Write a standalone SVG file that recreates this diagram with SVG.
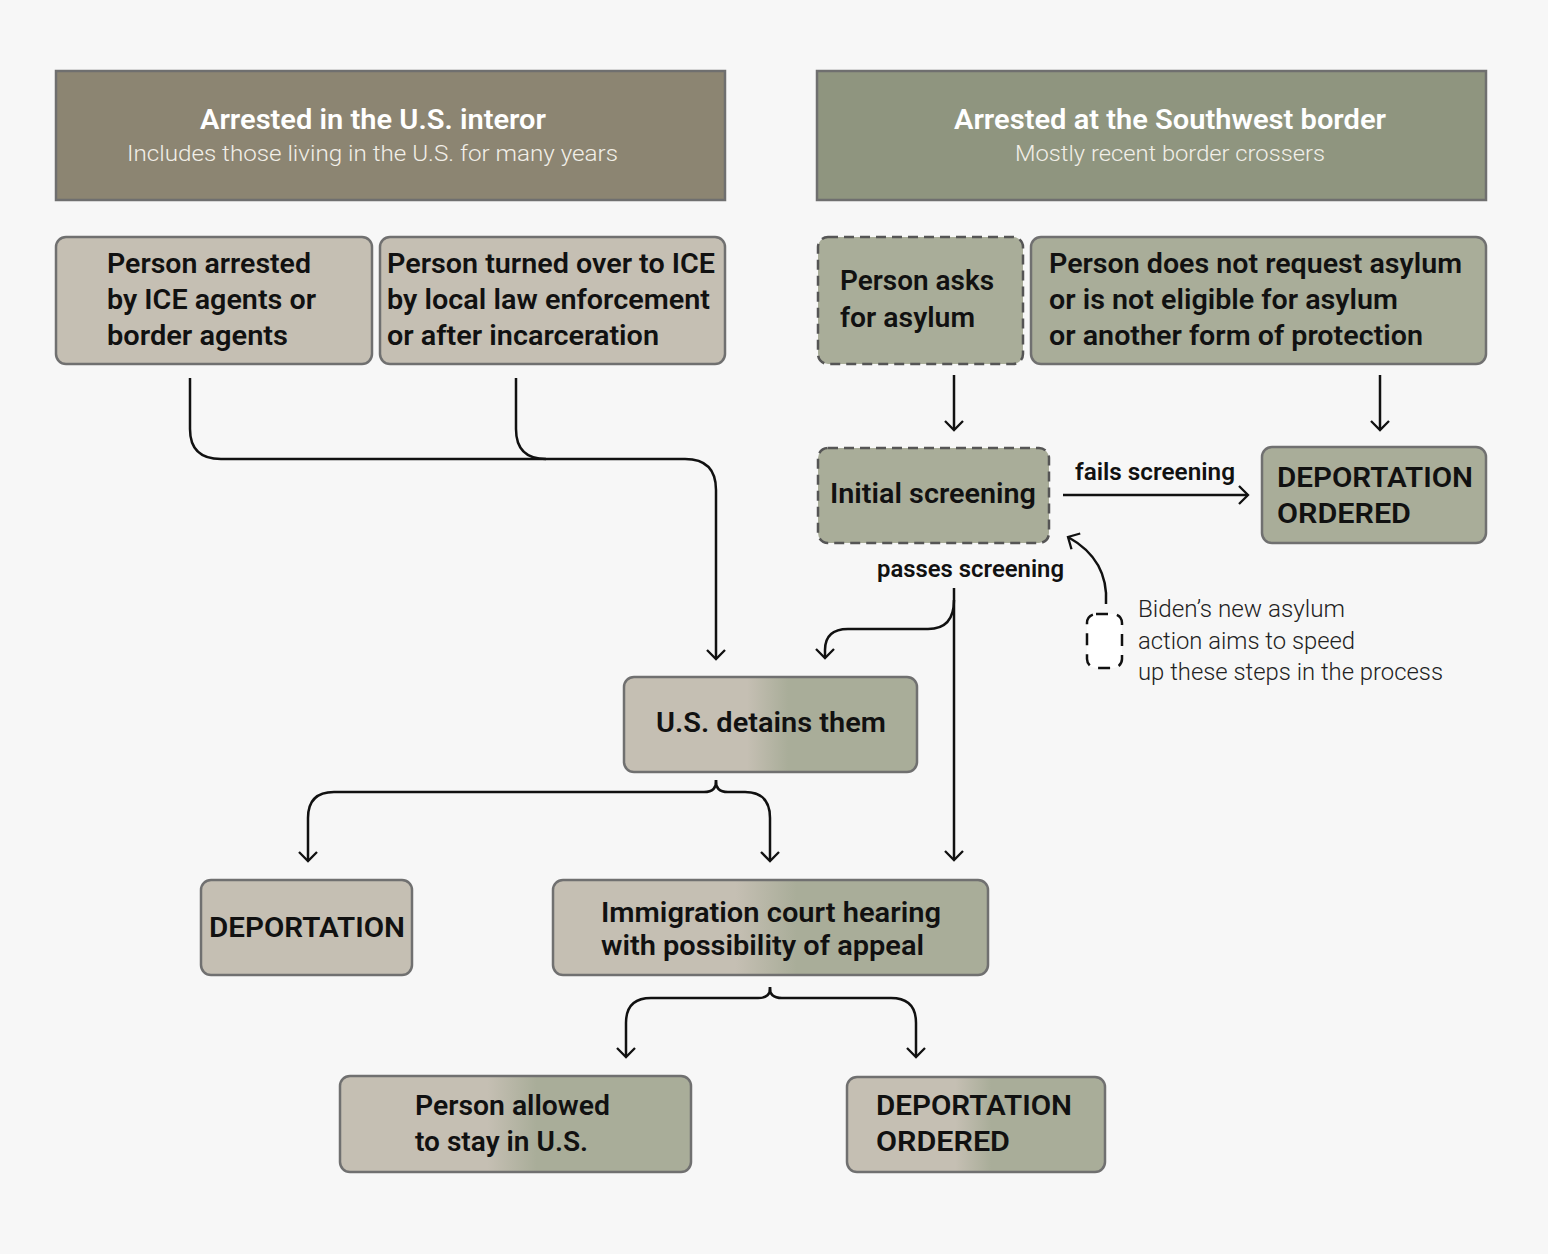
<svg xmlns="http://www.w3.org/2000/svg" width="1548" height="1254" viewBox="0 0 1548 1254">
<style>
.hdr{stroke:#6f6f6f;stroke-width:2.5}
.box{stroke:#707070;stroke-width:2.5}
.dash{stroke:#555;stroke-width:2.5;stroke-dasharray:10 6}
.lt{fill:#c5bfb3}
.gr{fill:#a9ad99}
.t{font-family:Roboto,"Liberation Sans",sans-serif;font-weight:600;font-size:28px;fill:#111}
.lbl{font-family:Roboto,"Liberation Sans",sans-serif;font-weight:600;font-size:23px;fill:#111}
.ht{font-family:Roboto,"Liberation Sans",sans-serif;font-weight:600;font-size:28px;fill:#fff}
.hs{font-family:Roboto,"Liberation Sans",sans-serif;font-weight:300;font-size:22px;fill:#f2efe8}
.note{font-family:Roboto,"Liberation Sans",sans-serif;font-weight:300;font-size:23px;fill:#222}
.c{fill:none;stroke:#111;stroke-width:2.5}
</style>
<defs>
<linearGradient id="g" x1="0" y1="0" x2="1" y2="0">
<stop offset="0" stop-color="#c5bfb3"/>
<stop offset="0.42" stop-color="#c5bfb3"/>
<stop offset="0.56" stop-color="#a9ad99"/>
<stop offset="1" stop-color="#a9ad99"/>
</linearGradient>
<marker id="ah" viewBox="-12 -12 24 24" refX="0" refY="0" markerWidth="24" markerHeight="24" markerUnits="userSpaceOnUse" orient="auto">
<path d="M-9,-9 L0,0 L-9,9" fill="none" stroke="#111" stroke-width="2.3"/>
</marker>
</defs>
<rect width="1548" height="1254" fill="#f7f7f7"/>

<g id="hdr-interior">
<rect class="hdr" x="56" y="71" width="669" height="129" fill="#8c8572"/>
<text class="ht" x="200" y="129" textLength="346" lengthAdjust="spacingAndGlyphs">Arrested in the U.S. interor</text>
<text class="hs" x="127" y="161" textLength="491" lengthAdjust="spacingAndGlyphs">Includes those living in the U.S. for many years</text>
</g>
<g id="hdr-border">
<rect class="hdr" x="817" y="71" width="669" height="129" fill="#8f957f"/>
<text class="ht" x="954" y="129" textLength="432" lengthAdjust="spacingAndGlyphs">Arrested at the Southwest border</text>
<text class="hs" x="1015" y="161" textLength="310" lengthAdjust="spacingAndGlyphs">Mostly recent border crossers</text>
</g>

<g id="n-arrested-ice">
<rect class="box lt" x="56" y="237" width="316" height="127" rx="10"/>
<text class="t" x="107" y="273" textLength="204" lengthAdjust="spacingAndGlyphs">Person arrested</text>
<text class="t" x="107" y="309" textLength="209" lengthAdjust="spacingAndGlyphs">by ICE agents or</text>
<text class="t" x="107" y="345" textLength="181" lengthAdjust="spacingAndGlyphs">border agents</text>
</g>
<g id="n-turned-over">
<rect class="box lt" x="380" y="237" width="345" height="127" rx="10"/>
<text class="t" x="387" y="273" textLength="328" lengthAdjust="spacingAndGlyphs">Person turned over to ICE</text>
<text class="t" x="387" y="309" textLength="323" lengthAdjust="spacingAndGlyphs">by local law enforcement</text>
<text class="t" x="387" y="345" textLength="272" lengthAdjust="spacingAndGlyphs">or after incarceration</text>
</g>
<g id="n-asks-asylum">
<rect class="dash gr" x="818" y="237" width="205" height="127" rx="10"/>
<text class="t" x="840" y="290" textLength="154" lengthAdjust="spacingAndGlyphs">Person asks</text>
<text class="t" x="840" y="327" textLength="135" lengthAdjust="spacingAndGlyphs">for asylum</text>
</g>
<g id="n-no-asylum">
<rect class="box gr" x="1031" y="237" width="455" height="127" rx="10"/>
<text class="t" x="1049" y="273" textLength="413" lengthAdjust="spacingAndGlyphs">Person does not request asylum</text>
<text class="t" x="1049" y="309" textLength="349" lengthAdjust="spacingAndGlyphs">or is not eligible for asylum</text>
<text class="t" x="1049" y="345" textLength="374" lengthAdjust="spacingAndGlyphs">or another form of protection</text>
</g>
<g id="n-screening">
<rect class="dash gr" x="818" y="448" width="231" height="95" rx="10"/>
<text class="t" x="830" y="503" textLength="206" lengthAdjust="spacingAndGlyphs">Initial screening</text>
</g>
<g id="n-deport-ordered-1">
<rect class="box gr" x="1262" y="447" width="224" height="96" rx="10"/>
<text class="t" x="1277" y="487" textLength="196" lengthAdjust="spacingAndGlyphs">DEPORTATION</text>
<text class="t" x="1277" y="523" textLength="134" lengthAdjust="spacingAndGlyphs">ORDERED</text>
</g>
<g id="n-detains">
<rect class="box" x="624" y="677" width="293" height="95" rx="10" fill="url(#g)"/>
<text class="t" x="656" y="732" textLength="230" lengthAdjust="spacingAndGlyphs">U.S. detains them</text>
</g>
<g id="n-deportation">
<rect class="box lt" x="201" y="880" width="211" height="95" rx="10"/>
<text class="t" x="209" y="937" textLength="196" lengthAdjust="spacingAndGlyphs">DEPORTATION</text>
</g>
<g id="n-court">
<rect class="box" x="553" y="880" width="435" height="95" rx="10" fill="url(#g)"/>
<text class="t" x="601" y="922" textLength="340" lengthAdjust="spacingAndGlyphs">Immigration court hearing</text>
<text class="t" x="601" y="955" textLength="323" lengthAdjust="spacingAndGlyphs">with possibility of appeal</text>
</g>
<g id="n-stay">
<rect class="box" x="340" y="1076" width="351" height="96" rx="10" fill="url(#g)"/>
<text class="t" x="415" y="1115" textLength="195" lengthAdjust="spacingAndGlyphs">Person allowed</text>
<text class="t" x="415" y="1151" textLength="173" lengthAdjust="spacingAndGlyphs">to stay in U.S.</text>
</g>
<g id="n-deport-ordered-2">
<rect class="box" x="847" y="1077" width="258" height="95" rx="10" fill="url(#g)"/>
<text class="t" x="876" y="1115" textLength="196" lengthAdjust="spacingAndGlyphs">DEPORTATION</text>
<text class="t" x="876" y="1151" textLength="134" lengthAdjust="spacingAndGlyphs">ORDERED</text>
</g>

<g id="connectors">
<path class="c" d="M190,378 V429 Q190,459 221,459 H685 Q716,459 716,490 V659" marker-end="url(#ah)"/>
<path class="c" d="M516,378 V429 Q516,459 546,459"/>
<path class="c" d="M954,375 V430" marker-end="url(#ah)"/>
<path class="c" d="M1380,375 V430" marker-end="url(#ah)"/>
<path class="c" d="M1063,495 H1248" marker-end="url(#ah)"/>
<path class="c" d="M954,588 V860" marker-end="url(#ah)"/>
<path class="c" d="M954,600 Q954,629 928,629 H848 Q825,629 825,650 V658" marker-end="url(#ah)"/>
<path class="c" d="M716,780 Q717,792 704,792 H334 Q308,792 308,818 V861" marker-end="url(#ah)"/>
<path class="c" d="M716,780 Q715,792 728,792 H745 Q770,792 770,818 V861" marker-end="url(#ah)"/>
<path class="c" d="M770,987 Q771,998 758,998 H651 Q626,998 626,1023 V1057" marker-end="url(#ah)"/>
<path class="c" d="M770,987 Q769,998 782,998 H891 Q916,998 916,1023 V1057" marker-end="url(#ah)"/>
<path class="c" d="M1106,604 C1108,574 1095,552 1068,537" marker-end="url(#ah)"/>
</g>

<g id="labels">
<text class="lbl" x="1075" y="480" textLength="160" lengthAdjust="spacingAndGlyphs">fails screening</text>
<text class="lbl" x="877" y="577" textLength="187" lengthAdjust="spacingAndGlyphs">passes screening</text>
</g>

<g id="annotation">
<rect x="1087" y="614" width="35" height="54" rx="9" fill="#fff" stroke="#111" stroke-width="2.5" stroke-dasharray="12 9"/>
<text class="note" x="1138" y="617" textLength="207" lengthAdjust="spacingAndGlyphs">Biden’s new asylum</text>
<text class="note" x="1138" y="649" textLength="217" lengthAdjust="spacingAndGlyphs">action aims to speed</text>
<text class="note" x="1138" y="680" textLength="305" lengthAdjust="spacingAndGlyphs">up these steps in the process</text>
</g>
</svg>
